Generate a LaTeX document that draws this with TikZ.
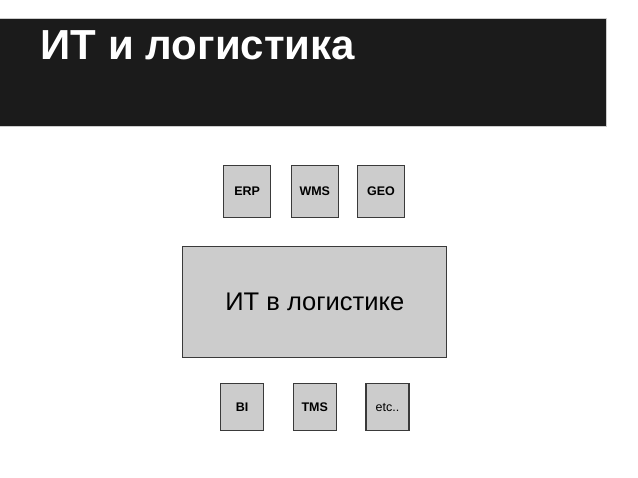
\documentclass[tikz,border=0pt]{standalone}
\usepackage{fontspec}
\setmainfont{Liberation Sans}
\usetikzlibrary{positioning}

\definecolor{banner}{HTML}{1B1B1B}
\definecolor{boxfill}{HTML}{CCCCCC}
\definecolor{boxline}{HTML}{3A3A3A}

\begin{document}
\begin{tikzpicture}[x=1pt, y=-1pt,
        sysbox/.style={draw=boxline, fill=boxfill, line width=1.2pt, inner sep=0pt,
            minimum width=47pt, minimum height=52pt, text height=9pt, text depth=0pt,
            font=\fontsize{12.5}{14}\selectfont\bfseries},
        lowbox/.style={sysbox, minimum width=43pt, minimum height=46.5pt},
        mainbox/.style={draw=boxline, fill=boxfill, line width=1.2pt,
            minimum width=264pt, minimum height=111pt, text height=18pt, text depth=0pt,
            font=\fontsize{25.5}{28}\selectfont}]

    \useasboundingbox (0,0) rectangle (638,478);

    % title banner
    \fill[banner] (0,18.5) rectangle (606,126.5);
    \draw[gray!40, line width=0.6pt] (0,18.5) -- (606,18.5) -- (606,126.5) -- (0,126.5);
    \node[anchor=base west, inner sep=0pt, text=white,
          font=\fontsize{42}{46}\selectfont\bfseries] (title) at (40.5,59.5) {ИТ и логистика};

    \node[mainbox] (it) at (314.8,302) {ИТ в логистике};

    \node[sysbox] (wms) [above = 28pt of it]   {WMS};
    \node[sysbox] (erp) [left = 19.5pt of wms]  {ERP};
    \node[sysbox] (geo) [right = 18pt of wms]   {GEO};

    \node[lowbox] (tms) [below = 25pt of it]   {TMS};
    \node[lowbox] (bi)  [left = 28.5pt of tms]  {BI};
    \node[lowbox, font=\fontsize{12.5}{14}\selectfont] (etc) [right = 28.5pt of tms] {etc..};

\end{tikzpicture}
\end{document}
